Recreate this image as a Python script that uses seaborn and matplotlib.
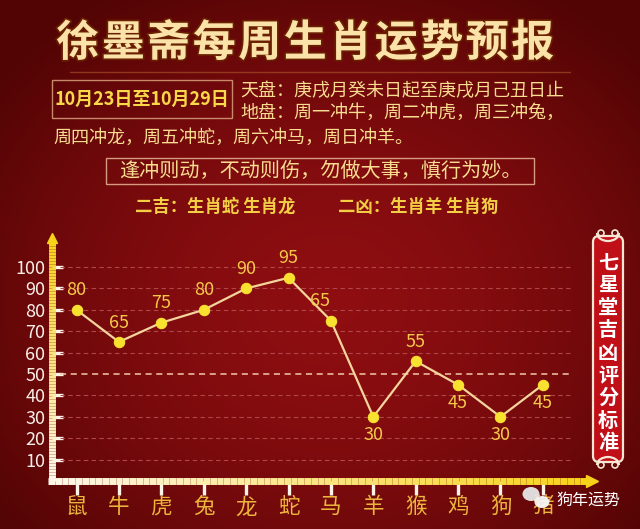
import matplotlib
matplotlib.use('Agg')
import matplotlib.pyplot as plt
import matplotlib.patheffects as pe
from matplotlib.collections import LineCollection
from matplotlib.colors import to_rgb
from matplotlib.patches import Rectangle, FancyBboxPatch, Ellipse, Arc
import seaborn as sns
import pandas as pd
import numpy as np

# ---- data ----
zodiac = ['鼠', '牛', '虎', '兔', '龙', '蛇', '马', '羊', '猴', '鸡', '狗', '猪']
scores = [80, 65, 74, 80, 90, 95, 75, 30, 56, 45, 30, 45]          # marker heights
score_text = ['80', '65', '75', '80', '90', '95', '65', '30', '55', '45', '30', '45']
text_below = [False, False, False, False, False, False, False, True, False, True, True, True]
y_ticks = [10, 20, 30, 40, 50, 60, 70, 80, 90, 100]

title = '徐墨斋每周生肖运势预报'
date_range = '10月23日至10月29日'
line_tian = '天盘：庚戌月癸未日起至庚戌月己丑日止'
line_di = '地盘：周一冲牛，周二冲虎，周三冲兔，'
line_week = '周四冲龙，周五冲蛇，周六冲马，周日冲羊。'
motto = '逢冲则动，不动则伤，勿做大事，慎行为妙。'
good = '二吉：生肖蛇 生肖龙'
bad = '二凶：生肖羊 生肖狗'
banner = '七星堂吉凶评分标准'
watermark = '狗年运势'

sns.set_theme(style='white')
plt.rcParams['font.family'] = ['Noto Sans CJK SC', 'DejaVu Sans']

W, H = 640, 529
fig = plt.figure(figsize=(W / 100, H / 100), dpi=100)
fig.patch.set_facecolor('#6a0708')

# background: dark red with a vignette
bg = fig.add_axes([0, 0, 1, 1], zorder=0)
yy, xx = np.mgrid[0:H, 0:W]
r = np.sqrt(((xx - 330) / 420) ** 2 + ((yy - 300) / 360) ** 2)
t = np.clip(r, 0, 1)[..., None] ** 1.6
c_in, c_out = np.array(to_rgb('#8e0e11')), np.array(to_rgb('#520404'))
bg.imshow(c_in * (1 - t) + c_out * t, extent=(0, W, H, 0), aspect='auto')
bg.axis('off')

# ---- chart ----
ax = fig.add_axes([51.5 / W, 1 - 481 / H, (598 - 51.5) / W, (481 - 232) / H], zorder=2)
ax.set_xlim(-0.59, 12.30)
ax.set_ylim(0, 116.4)
ax.patch.set_visible(False)
for s in ax.spines.values():
    s.set_visible(False)

for v in y_ticks:
    mid = v == 50
    ax.axhline(v, xmin=0.016, xmax=0.952, color='#f3c9a6' if mid else '#b0464a',
               lw=1.1 if mid else 0.8, ls=(0, (4, 3)), zorder=1)


def gradient_line(p0, p1, c0, c1, n=80):
    xs = np.linspace(p0[0], p1[0], n + 1)
    ys = np.linspace(p0[1], p1[1], n + 1)
    segs = [[(xs[i], ys[i]), (xs[i + 1], ys[i + 1])] for i in range(n)]
    a, b = np.array(to_rgb(c0)), np.array(to_rgb(c1))
    f = np.linspace(0, 1, n)[:, None]
    lc = LineCollection(segs, colors=a * (1 - f) + b * f, linewidths=5,
                        transform=ax.transAxes, clip_on=False, zorder=3, capstyle='butt')
    ax.add_collection(lc)


gradient_line((0, 0), (0, 0.97), '#fff8ea', '#f7d21a')
gradient_line((-0.006, 0), (0.98, 0), '#fff8ea', '#f7d21a')
ax.plot(0, 0.976, marker='^', ms=7.5, color='#f7d21a', transform=ax.transAxes, clip_on=False, zorder=4)
ax.plot(0.989, 0, marker='>', ms=8, color='#f7d21a', transform=ax.transAxes, clip_on=False, zorder=4)

df = pd.DataFrame({'pos': np.arange(len(zodiac)), 'score': scores})
sns.lineplot(data=df, x='pos', y='score', ax=ax, color='#f4d49c', lw=1.6, marker='o', ms=7.5,
             markerfacecolor='#f9e22f', markeredgecolor='#f9e22f', zorder=5)

for i, (v, txt, below) in enumerate(zip(scores, score_text, text_below)):
    dx = -8 if i == 6 else 0
    dy = -13 if below else 14
    ax.annotate(txt, (i, v), xytext=(dx, dy), textcoords='offset points', ha='center', va='center',
                fontsize=13, color='#f5c84a', zorder=6)

ax.set_yticks(y_ticks)
ax.tick_params(axis='y', direction='in', length=8, width=2.4, color='#fff4ea', pad=4.5,
               labelsize=13, labelcolor='#f8eee6', left=True)
ax.set_xticks(range(len(zodiac)), zodiac)
ax.tick_params(axis='x', direction='out', length=10, width=2.4, color='#fff4ea', pad=1,
               labelsize=15.5, labelcolor='#ecb63c', bottom=True)
ax.set_xlabel('')
ax.set_ylabel('')

# ---- overlay in pixel coordinates ----
ov = fig.add_axes([0, 0, 1, 1], zorder=3)
ov.set_xlim(0, W)
ov.set_ylim(H, 0)
ov.axis('off')

for i, ch in enumerate(title):
    ov.text(55 + 22.7 + 45.5 * i, 43, ch, fontsize=31, fontweight='bold', color='#fbe2a8',
            ha='center', va='center',
            path_effects=[pe.withStroke(linewidth=2.5, foreground='#6a2000')])
ov.plot([70, 570], [72, 72], color='#b0582e', lw=1, alpha=0.6)

ov.add_patch(Rectangle((52, 80), 180, 38, fill=False, ec='#c88a6a', lw=1))
ov.text(142, 99, date_range, fontsize=13, fontweight='bold', color='#f9d94a', ha='center', va='center')
ov.text(240, 91, line_tian, fontsize=13, color='#f8dc90', ha='left', va='center')
ov.text(240, 113, line_di, fontsize=13, color='#f8dc90', ha='left', va='center')
ov.text(53, 138, line_week, fontsize=13, color='#f8dc90', ha='left', va='center')

ov.add_patch(Rectangle((106, 158), 428, 26, fill=False, ec='#d89a80', lw=1))
ov.text(320, 171, motto, fontsize=14.5, color='#f8dc90', ha='center', va='center')

ov.text(215, 207, good, fontsize=12.5, fontweight='bold', color='#f4cf45', ha='center', va='center')
ov.text(418, 207, bad, fontsize=12.5, fontweight='bold', color='#f4cf45', ha='center', va='center')

# right banner
ov.add_patch(FancyBboxPatch((593, 236), 30, 226, boxstyle='round,pad=0,rounding_size=6',
                            fc='#c10f18', ec='#f6e6d4', lw=1.6))
for yc, th in [(233, (0, 180)), (465, (180, 360))]:
    ov.add_patch(Arc((608, yc), 22, 16, theta1=th[0], theta2=th[1], color='#f6e6d4', lw=1.6))
    ov.add_patch(Ellipse((601, yc), 6, 6, fill=False, ec='#f6e6d4', lw=1.2))
    ov.add_patch(Ellipse((615, yc), 6, 6, fill=False, ec='#f6e6d4', lw=1.2))
for i, ch in enumerate(banner):
    ov.text(608, 262 + 22.6 * i, ch, fontsize=14.5, fontweight='bold', color='white',
            ha='center', va='center')

# watermark
ov.add_patch(Ellipse((531, 494), 17, 14, fc='#e6e6e6', ec='none', alpha=0.95))
ov.add_patch(Ellipse((542, 502), 15, 12, fc='#f6f6f6', ec='none', alpha=0.95))
ov.text(556, 500, watermark, fontsize=11.5, color='white', ha='left', va='center')

fig.savefig('out.png', dpi=100, facecolor=fig.get_facecolor())
